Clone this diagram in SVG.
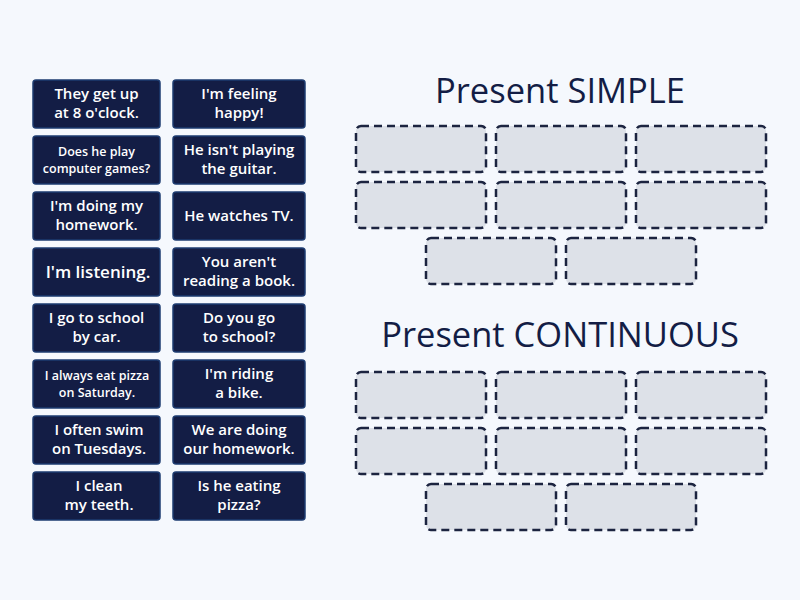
<svg xmlns="http://www.w3.org/2000/svg" width="800" height="600" viewBox="0 0 800 600">
<style>
.c rect{fill:#131d45;stroke:#1d3b70;stroke-width:1.5}
.c text{fill:#fff;font-family:"Open Sans",sans-serif;font-weight:600;font-size:15px;text-anchor:middle}
.c text.sm{font-size:12.5px}
.s{fill:#dde1e8;stroke:#1c2440;stroke-width:2.5;stroke-dasharray:8,5}
.t{fill:#131d45;font-family:"Open Sans",sans-serif;font-weight:500;font-size:34.5px;text-anchor:middle}
</style>
<rect width="800" height="600" fill="#f5f8fd"/>
<g class="c">
<g id="n1"><rect x="33" y="80" width="127" height="48" rx="3"/><text x="96.5" y="99">They get up</text><text x="96.5" y="118">at 8 o'clock.</text></g>
<g id="n2"><rect x="173" y="80" width="132" height="48" rx="3"/><text x="239" y="99">I'm feeling</text><text x="239" y="118">happy!</text></g>
<g id="n3"><rect x="33" y="136" width="127" height="48" rx="3"/><text class="sm" x="96.5" y="156">Does he play</text><text class="sm" x="96.5" y="173">computer games?</text></g>
<g id="n4"><rect x="173" y="136" width="132" height="48" rx="3"/><text x="239" y="155">He isn't playing</text><text x="239" y="174">the guitar.</text></g>
<g id="n5"><rect x="33" y="192" width="127" height="48" rx="3"/><text x="96.5" y="211">I'm doing my</text><text x="96.5" y="230">homework.</text></g>
<g id="n6"><rect x="173" y="192" width="132" height="48" rx="3"/><text x="239" y="221">He watches TV.</text></g>
<g id="n7"><rect x="33" y="248" width="127" height="48" rx="3"/><text x="98" y="278" style="font-size:17px">I'm listening.</text></g>
<g id="n8"><rect x="173" y="248" width="132" height="48" rx="3"/><text x="239" y="267">You aren't</text><text x="239" y="286">reading a book.</text></g>
<g id="n9"><rect x="33" y="304" width="127" height="48" rx="3"/><text x="96.5" y="323">I go to school</text><text x="96.5" y="342">by car.</text></g>
<g id="n10"><rect x="173" y="304" width="132" height="48" rx="3"/><text x="239" y="323">Do you go</text><text x="239" y="342">to school?</text></g>
<g id="n11"><rect x="33" y="360" width="127" height="48" rx="3"/><text class="sm" x="97" y="380">I always eat pizza</text><text class="sm" x="97" y="397">on Saturday.</text></g>
<g id="n12"><rect x="173" y="360" width="132" height="48" rx="3"/><text x="239" y="379">I'm riding</text><text x="239" y="398">a bike.</text></g>
<g id="n13"><rect x="33" y="416" width="127" height="48" rx="3"/><text x="99" y="435">I often swim</text><text x="99" y="454">on Tuesdays.</text></g>
<g id="n14"><rect x="173" y="416" width="132" height="48" rx="3"/><text x="239" y="435">We are doing</text><text x="239" y="454">our homework.</text></g>
<g id="n15"><rect x="33" y="472" width="127" height="48" rx="3"/><text x="99" y="491">I clean</text><text x="99" y="510">my teeth.</text></g>
<g id="n16"><rect x="173" y="472" width="132" height="48" rx="3"/><text x="239" y="491">Is he eating</text><text x="239" y="510">pizza?</text></g>
</g>
<text class="t" x="560" y="103">Present SIMPLE</text>
<text class="t" x="560" y="347">Present CONTINUOUS</text>
<g id="slots">
<rect class="s" x="356" y="126" width="130" height="46" rx="5"/>
<rect class="s" x="496" y="126" width="130" height="46" rx="5"/>
<rect class="s" x="636" y="126" width="130" height="46" rx="5"/>
<rect class="s" x="356" y="182" width="130" height="46" rx="5"/>
<rect class="s" x="496" y="182" width="130" height="46" rx="5"/>
<rect class="s" x="636" y="182" width="130" height="46" rx="5"/>
<rect class="s" x="426" y="238" width="130" height="46" rx="5"/>
<rect class="s" x="566" y="238" width="130" height="46" rx="5"/>
<rect class="s" x="356" y="372" width="130" height="46" rx="5"/>
<rect class="s" x="496" y="372" width="130" height="46" rx="5"/>
<rect class="s" x="636" y="372" width="130" height="46" rx="5"/>
<rect class="s" x="356" y="428" width="130" height="46" rx="5"/>
<rect class="s" x="496" y="428" width="130" height="46" rx="5"/>
<rect class="s" x="636" y="428" width="130" height="46" rx="5"/>
<rect class="s" x="426" y="484" width="130" height="46" rx="5"/>
<rect class="s" x="566" y="484" width="130" height="46" rx="5"/>
</g>
<g id="connectors"/>
</svg>
